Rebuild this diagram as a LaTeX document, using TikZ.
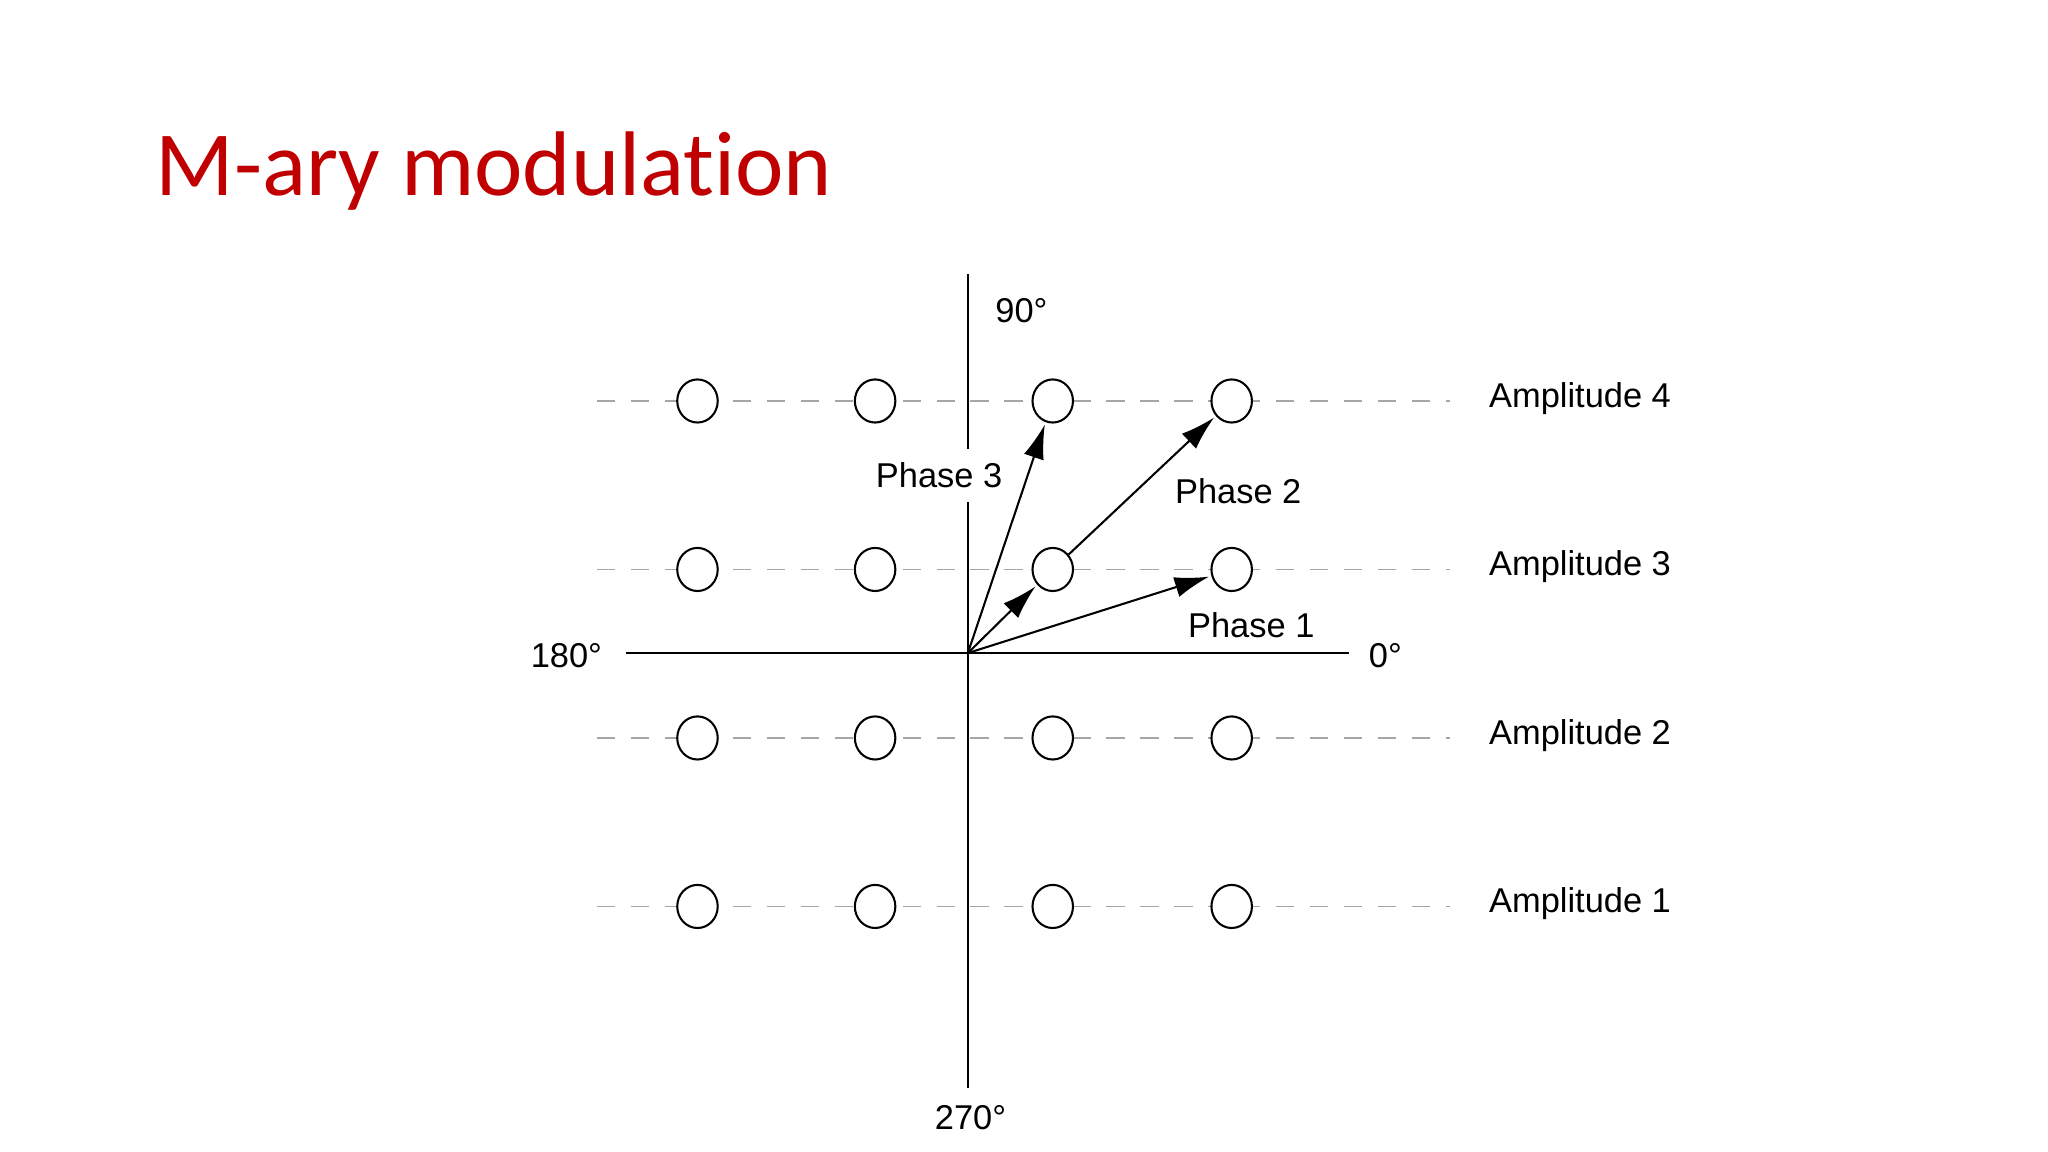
\documentclass[tikz,border=0pt]{standalone}
\usepackage{fontspec}
\setmainfont{Liberation Sans}
\newfontfamily\titlefont[Ligatures=CommonOff]{Carlito}
\usetikzlibrary{arrows.meta,shapes.geometric}
\definecolor{titlered}{HTML}{C00000}
\tikzset{
 pt/.style={draw,ellipse,minimum width=31*0.02cm,minimum height=33*0.02cm,inner sep=0pt,line width=0.9pt,fill=white},
 guide/.style={gray!70,dash pattern=on 14*0.02cm off 12*0.02cm,line width=0.6pt},
 ax/.style={line width=1pt},
 lab/.style={font=\fontsize{15}{17}\selectfont,inner sep=1pt},
 arr/.style={line width=0.9pt,-{Latex[length=15pt,width=9pt]},shorten >=1pt},
}
\begin{document}
\begin{tikzpicture}[x=0.02cm,y=-0.02cm]
\useasboundingbox (0,0) rectangle (1568,882);
\fill[white] (0,0) rectangle (1568,882);
\node[anchor=west,text=titlered,font=\titlefont\fontsize{40}{44}\selectfont,inner sep=0pt] (title) at (119,131) {M-ary modulation};
% guides
\foreach \y/\n in {307/4,436/3,565/2,694/1}{
 \draw[guide] (457,\y) coordinate (gl\n) -- (1110,\y) coordinate (gr\n);
 \node[lab,anchor=west] (amp\n) at (1138,\y-2) {Amplitude \n};
}
% axes
\coordinate (O) at (741,500);
\coordinate (top) at (741,210); \coordinate (bot) at (741,833);
\coordinate (lft) at (479,500); \coordinate (rgt) at (1033,500);
\draw[ax] (top) -- (bot);
\draw[ax] (lft) -- (rgt);
\node[lab,anchor=west] (d90) at (760,238) {90°};
\node[lab,anchor=east] (d180) at (463,502) {180°};
\node[lab,anchor=west] (d0) at (1046,502) {0°};
\node[lab] (d270) at (743,856) {270°};
% points
\foreach \x/\c in {534/a,670/b,806/c,943/d}{
 \foreach \y/\r in {307/4,436/3,565/2,694/1}{
  \node[pt] (\c\r) at (\x,\y) {};
 }
}
% arrows
\draw[arr] (O) -- (c3);
\draw[arr] (O) -- (d3);
\draw[arr] (c3) -- (d4);
\draw[arr] (O) -- (c4);
\node[lab,fill=white,inner xsep=4pt,inner ysep=6pt] (p3) at (719,364) {Phase 3};
\node[lab] (p2) at (948,376) {Phase 2};
\node[lab] (p1) at (958,479) {Phase 1};
\end{tikzpicture}
\end{document}
